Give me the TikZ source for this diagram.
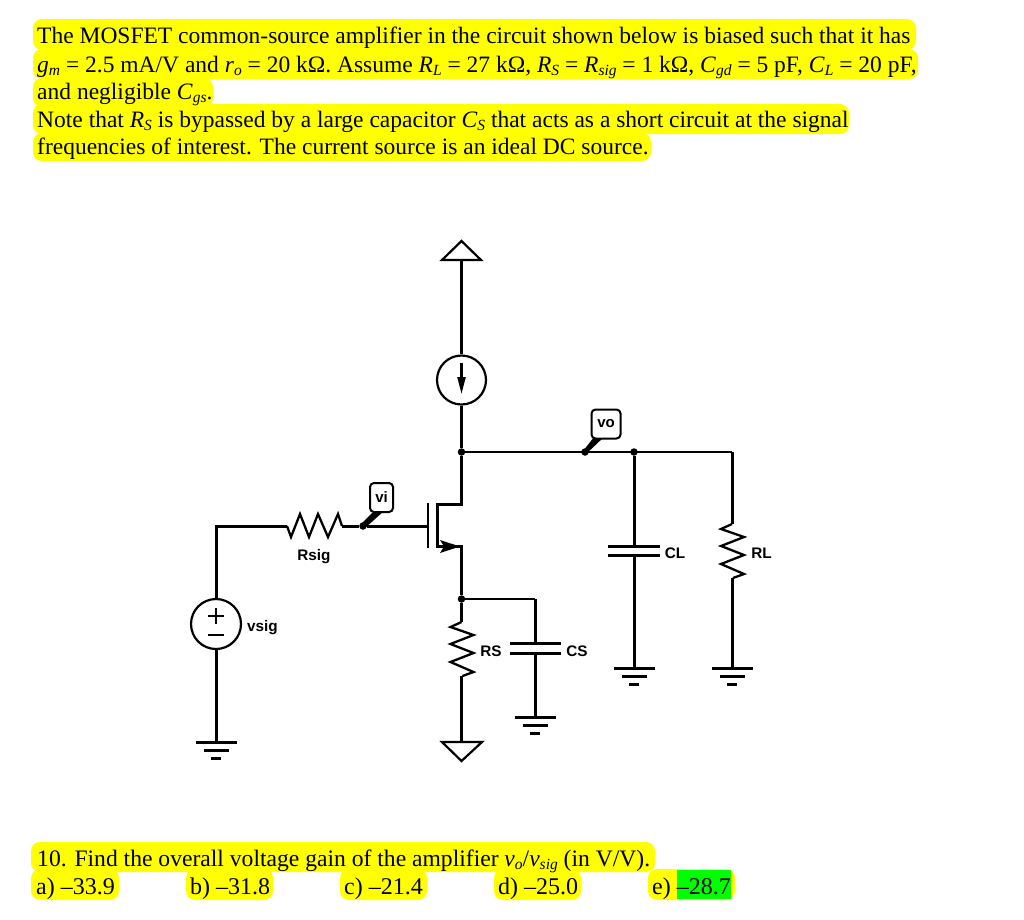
\documentclass[tikz,border=0pt]{standalone}
\usepackage{fontspec}
\setmainfont{Liberation Serif}
\newfontfamily\labelfont{Liberation Sans}
\usetikzlibrary{arrows.meta}
\definecolor{hl}{RGB}{255,255,0}
\definecolor{hlgreen}{RGB}{0,255,0}
\newcommand{\vr}[1]{\textit{#1}}
\newcommand{\sbs}[1]{\raisebox{-0.16em}{\fontsize{15.5}{15.5}\selectfont\textit{#1}}}
\newcommand{\resV}[1]{(#1) -- ++(-11,5) -- ++(23,8) -- ++(-23,9) -- ++(23,9) -- ++(-23,9) -- ++(23,10) -- ++(-11,4)}
\newcommand{\resH}[1]{(#1) -- ++(4,11) -- ++(9,-23) -- ++(9,23) -- ++(9,-23) -- ++(10,23) -- ++(10,-23) -- ++(4,12)}
\newcommand{\gnd}[1]{
  \draw[gndbar] ([xshift=-20.5pt]#1) -- ([xshift=20.5pt]#1);
  \draw[gndbar] ([xshift=-12.5pt,yshift=-8pt]#1) -- ([xshift=12.5pt,yshift=-8pt]#1);
  \draw[gndbar] ([xshift=-5pt,yshift=-16pt]#1) -- ([xshift=5pt,yshift=-16pt]#1);
}
\tikzset{
  x=1pt,y=-1pt,
  wire/.style={line width=3pt,black,line join=miter},
  thinwire/.style={line width=2.8pt,black},
  zig/.style={line width=2.3pt,black,line join=miter},
  sym/.style={line width=2.2pt,black},
  gndbar/.style={line width=3pt,black},
  plate/.style={line width=3pt,black},
  hlbar/.style={fill=hl,draw=none,rounded corners=9pt},
  qtext/.style={anchor=base west,inner sep=0pt,font=\fontsize{23.5}{23.5}\selectfont},
  opttext/.style={qtext,font=\fontsize{24}{24}\selectfont},
  comp/.style={anchor=center,inner sep=0pt,font=\labelfont\bfseries\fontsize{15.3}{15.3}\selectfont},
  dot/.style={circle,fill=black,inner sep=0pt,minimum size=7.5pt},
  flag/.style={draw=black,line width=2pt,fill=white,rounded corners=4pt,inner sep=0pt,font=\labelfont\bfseries\fontsize{15}{15}\selectfont},
  srccircle/.style={circle,draw=black,line width=2.2pt,fill=white,inner sep=0pt},
}
\begin{document}
\begin{tikzpicture}
\useasboundingbox (0,0) rectangle (1024,919);
% highlights
\fill[hlbar] (33,19) rectangle (916,50);
\fill[hlbar] (33,49) rectangle (918,79);
\fill[hlbar] (33,78) rectangle (213,107);
\fill[hlbar] (33,104) rectangle (849,134);
\fill[hlbar] (33,133) rectangle (651,161);
\fill[hlbar] (31,842) rectangle (655,872);
\fill[hlbar] (31,869) rectangle (119,900);
\fill[hlbar] (186,869) rectangle (273,900);
\fill[hlbar] (340,869) rectangle (427,900);
\fill[hlbar] (494,869) rectangle (581,900);
\fill[hlbar] (648,869) rectangle (735,900);
\fill[hlgreen] (677,870) rectangle (731,899);
% text
\node[qtext] (t1) at (37,43) {The MOSFET common-source amplifier in the circuit shown below is biased such that it has};
\node[qtext] (t2) at (37,72) {\vr{g}\sbs{m} = 2.5 mA/V and \vr{r}\sbs{o} = 20 kΩ. Assume \vr{R}\sbs{L} = 27 kΩ, \vr{R}\sbs{S} = \vr{R}\sbs{sig} = 1 kΩ, \vr{C}\sbs{gd} = 5 pF, \vr{C}\sbs{L} = 20 pF,};
\node[qtext] (t3) at (37,99) {and negligible \vr{C}\sbs{gs}.};
\node[qtext] (t4) at (37,127) {Note that \vr{R}\sbs{S} is bypassed by a large capacitor \vr{C}\sbs{S} that acts as a short circuit at the signal};
\node[qtext] (t5) at (37,154) {frequencies of interest. The current source is an ideal DC source.};
\node[qtext,font=\fontsize{23.6}{23.6}\selectfont] (q) at (37,866) {10. Find the overall voltage gain of the amplifier \vr{v}\sbs{o}/\vr{v}\sbs{sig} (in V/V).};
\node[opttext] (a) at (36,894) {a) –33.9};
\node[opttext] (b) at (190,894) {b) –31.8};
\node[opttext] (c) at (344,894) {c) –21.4};
\node[opttext] (d) at (498,894) {d) –25.0};
\node[opttext] (e) at (652,894) {e) –28.7};
% coordinates
\coordinate (vddbase) at (461.5,260);
\coordinate (vddapex) at (461.5,241);
\coordinate (vddl) at (442,260);
\coordinate (vddr) at (481,260);
\node[srccircle,minimum size=49pt] (is) at (461.5,380) {};
\node[dot] (nd) at (461.5,452) {};
\node[dot] (no) at (585,452) {};
\node[dot] (nc) at (634,452) {};
\coordinate (cornerRL) at (732,452);
\coordinate (rlt) at (732,524);
\coordinate (rlb) at (732,578);
\coordinate (gndL) at (732,668);
\coordinate (dtop) at (461.5,504.5);
\coordinate (dleft) at (437,504.5);
\coordinate (sleft) at (437,546.5);
\coordinate (sbot) at (461.5,546.5);
\coordinate (ch1) at (437,503);
\coordinate (ch2) at (437,548);
\coordinate (gt) at (428,503);
\coordinate (gb) at (428,548);
\coordinate (gw) at (428,526);
\node[dot] (ng) at (363,526) {};
\coordinate (rsigr) at (342,526);
\coordinate (rsigl) at (287,526);
\coordinate (wcorner) at (216,526);
\node[srccircle,minimum size=50pt] (vs) at (216,624) {};
\coordinate (gndS) at (216,742);
\node[dot] (ns) at (461.5,599) {};
\coordinate (rst) at (461.5,622);
\coordinate (rsb) at (461.5,676);
\coordinate (gndtl) at (442,742);
\coordinate (gndtr) at (482,742);
\coordinate (gndtm) at (461.5,742);
\coordinate (gndta) at (461.5,761);
\coordinate (cscorner) at (535,599);
\coordinate (csa) at (535,643);
\coordinate (csb) at (535,653);
\coordinate (gndCS) at (535,717);
\coordinate (cla) at (634,546);
\coordinate (clb) at (634,555);
\coordinate (gndCL) at (634,668);
% wiring
\draw[wire] (vddbase) -- (is.north);
\draw[wire] (is.south) -- (nd);
\draw[wire] (nd) -- (dtop) -- (dleft);
\draw[thinwire] (nd) -- (cornerRL);
\draw[wire] (cornerRL) -- (rlt);
\draw[zig] \resV{rlt};
\draw[wire] (rlb) -- (gndL);
\draw[wire] (nc) -- (cla);
\draw[wire] (clb) -- (gndCL);
\draw[plate] (608,546) -- (660,546);
\draw[plate] (608,555) -- (660,555);
\draw[wire] (ch1) -- (ch2);
\draw[sym,line width=2.6pt] (gt) -- (gb);
\draw[wire] (gw) -- (ng);
\draw[wire] (ng) -- (rsigr);
\draw[zig] \resH{rsigl};
\draw[wire] (rsigl) -- (wcorner) -- (vs.north);
\draw[wire] (vs.south) -- (gndS);
\draw[wire] (sleft) -- (sbot) -- (ns);
\fill[black] (460,546.5) -- (440,540) -- (444,546.5) -- (440,553) -- cycle;
\draw[wire] (ns) -- (rst);
\draw[zig] \resV{rst};
\draw[wire] (rsb) -- (gndtm);
\draw[thinwire] (ns) -- (cscorner);
\draw[wire] (cscorner) -- (csa);
\draw[wire] (csb) -- (gndCS);
\draw[plate] (510,643.5) -- (561,643.5);
\draw[plate] (510,653) -- (561,653);
% supplies
\draw[sym,line join=miter] (vddl) -- (vddapex) -- (vddr) -- cycle;
\draw[sym,line join=miter] (gndtl) -- (gndta) -- (gndtr) -- cycle;
\gnd{gndS}
\gnd{gndCS}
\gnd{gndCL}
\gnd{gndL}
% current source arrow
\coordinate (ia) at (461.5,363);
\coordinate (ib) at (461.5,394);
\draw[line width=2.2pt,-{Triangle[length=17pt,width=8pt]}] (ia) -- (ib);
% vsig polarity
\draw[line width=2pt] (208,616) -- (224,616);
\draw[line width=2pt] (216,608) -- (216,624);
\draw[line width=2.6pt] (207.5,635) -- (224,635);
% probes
\fill[black] (361,524) -- (374,511) -- (384,511) -- (365,528) -- cycle;
\fill[black] (583.5,450.5) -- (594,437) -- (604,437) -- (586.5,453.5) -- cycle;
\node[flag,minimum width=23pt,minimum height=29pt] (vi) at (381.5,497.5) {vi};
\node[flag,minimum width=29pt,minimum height=29pt] (vo) at (606,424) {vo};
% labels
\node[comp] (lrsig) at (314,557) {Rsig};
\node[comp] (lvsig) at (262.5,628) {vsig};
\node[comp] (lrs) at (491,651) {RS};
\node[comp] (lcs) at (577,651) {CS};
\node[comp] (lcl) at (675,553) {CL};
\node[comp] (lrl) at (761.5,553) {RL};
\end{tikzpicture}
\end{document}
